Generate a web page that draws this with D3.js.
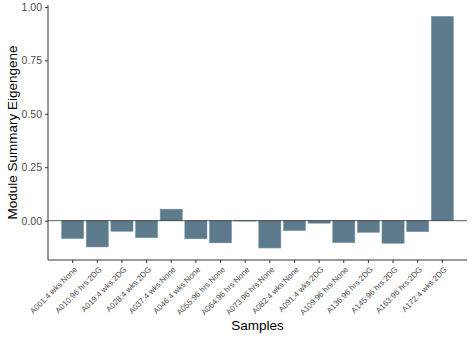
<!DOCTYPE html>
<html>
<head>
<meta charset="utf-8">
<script src="https://cdn.jsdelivr.net/npm/d3@7"></script>
<style>
  body { margin: 0; background: #fff; }
  svg { font-family: "Liberation Sans", Arial, sans-serif; }
</style>
</head>
<body>
<div id="chart"></div>
<script>
// sample ids and their eigengene values
const samples = ["A001:4 wks:None", "A010:96 hrs:2DG", "A019:4 wks:2DG", "A028:4 wks:2DG",
  "A037:4 wks:None", "A046:4 wks:None", "A055:96 hrs:None", "A064:96 hrs:None",
  "A073:96 hrs:None", "A082:4 wks:None", "A091:4 wks:2DG", "A109:96 hrs:None",
  "A136:96 hrs:2DG", "A145:96 hrs:2DG", "A163:96 hrs:2DG", "A172:4 wks:2DG"];
const eigengene = [-0.084, -0.123, -0.050, -0.080, 0.054, -0.085, -0.104, -0.002,
  -0.128, -0.047, -0.012, -0.103, -0.055, -0.106, -0.052, 0.956];
const yTicks = [0, 0.25, 0.5, 0.75, 1];

const width = 474, height = 338;
const margin = {top: 5, right: 7, bottom: 78, left: 48};

const svg = d3.select("#chart").append("svg")
    .attr("width", width)
    .attr("height", height);

const x = d3.scaleBand()
    .domain(samples)
    .range([margin.left, width - margin.right])
    .paddingInner(0.1)
    .paddingOuter(0.55);

const y = d3.scaleLinear()
    .domain([-0.184, 1.009])
    .range([height - margin.bottom, margin.top]);

// bars
svg.append("g")
  .selectAll("rect")
  .data(eigengene)
  .join("rect")
    .attr("x", (d, i) => x(samples[i]))
    .attr("y", d => y(Math.max(0, d)))
    .attr("width", x.bandwidth())
    .attr("height", d => Math.abs(y(d) - y(0)))
    .attr("fill", "#5e7a8d")
    .attr("stroke", "#7f98a8")
    .attr("stroke-width", 0.5);

// zero line
svg.append("line")
    .attr("x1", margin.left).attr("x2", width - margin.right)
    .attr("y1", y(0)).attr("y2", y(0))
    .attr("stroke", "#333").attr("stroke-width", 0.8);

// y axis
const yAxis = svg.append("g")
    .attr("transform", `translate(${margin.left},0)`)
    .call(d3.axisLeft(y).tickValues(yTicks).tickFormat(d3.format(".2f")).tickSize(3).tickPadding(3));
yAxis.select(".domain").attr("stroke", "#333").attr("d", `M0,${y.range()[0]}V${y.range()[1]}`);
yAxis.selectAll(".tick line").attr("stroke", "#333");
yAxis.selectAll(".tick text").attr("fill", "#4d4d4d").style("font-size", "10.5px");

// x axis
const xAxis = svg.append("g")
    .attr("transform", `translate(0,${height - margin.bottom})`)
    .call(d3.axisBottom(x).tickSize(3).tickPadding(2));
xAxis.select(".domain").attr("stroke", "#333").attr("d", `M${x.range()[0]},0H${x.range()[1]}`);
xAxis.selectAll(".tick line").attr("stroke", "#333");
xAxis.selectAll(".tick text")
    .attr("fill", "#4d4d4d")
    .style("font-size", "8px")
    .attr("text-anchor", "end")
    .attr("dy", null)
    .attr("y", 0)
    .attr("transform", "translate(5,10) rotate(-45)");

// axis titles
svg.append("text")
    .attr("x", (margin.left + width - margin.right) / 2)
    .attr("y", 330)
    .attr("text-anchor", "middle")
    .style("font-size", "13.5px")
    .text("Samples");

svg.append("text")
    .attr("transform", `translate(17,${(y.range()[0] + y.range()[1]) / 2}) rotate(-90)`)
    .attr("text-anchor", "middle")
    .style("font-size", "13.5px")
    .text("Module Summary Eigengene");
</script>
</body>
</html>
